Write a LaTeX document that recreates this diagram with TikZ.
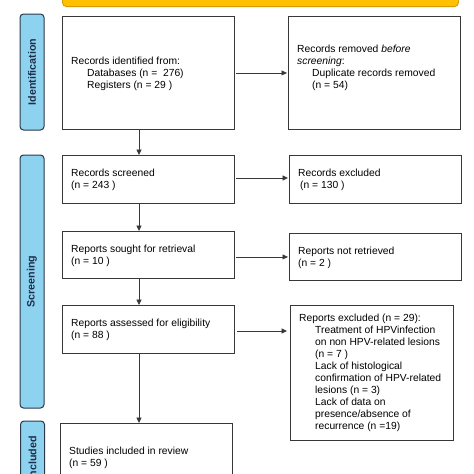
\documentclass[tikz,border=0pt]{standalone}
\usepackage{fontspec}
\setmainfont{Liberation Sans}
\usetikzlibrary{arrows.meta}
\definecolor{bannerfill}{HTML}{FFC000}
\definecolor{bannerline}{HTML}{D49A00}
\definecolor{sidefill}{HTML}{8DD3F0}
\definecolor{sideline}{HTML}{2B3A4A}
\definecolor{boxline}{HTML}{383838}
\definecolor{navy}{HTML}{1F2E4A}
\begin{document}
\begin{tikzpicture}[x=1pt,y=-1pt,
  box/.style={draw=boxline, line width=0.9pt, inner sep=0pt, anchor=north west},
  txt/.style={anchor=base west, inner sep=0pt, align=left, text=black,
    font=\fontsize{10.3}{12}\selectfont},
  side/.style={draw=sideline, fill=sidefill, line width=1pt, rounded corners=3.5pt,
    rotate=90, minimum height=24pt, inner sep=0pt, text=navy,
    font=\fontsize{10.7}{12}\selectfont\bfseries},
  conn/.style={draw=boxline, line width=0.9pt, -{Triangle[length=5.5pt,width=5pt]}}]
\useasboundingbox (0,0) rectangle (474,474);
\clip (0,0) rectangle (474,474);
\fill[white] (0,0) rectangle (474,474);

% banner
\node[draw=bannerline, fill=bannerfill, line width=0.9pt, rounded corners=4pt,
  minimum width=396pt, minimum height=27pt, inner sep=0pt, anchor=south west] (banner) at (62,7) {};

% side labels
\node[side, minimum width=116pt] (lid) at (32,72) {Identification};
\node[side, minimum width=253pt] (lscr) at (32,281.5) {Screening};
\node[side, minimum width=74pt] (linc) at (32.5,458) {Included};

% boxes
\node[box, minimum width=172pt, minimum height=113pt] (b1) at (62,16) {};
\node[box, minimum width=172pt, minimum height=113pt] (b2) at (288,16) {};
\node[box, minimum width=172pt, minimum height=48pt] (b3) at (62,155) {};
\node[box, minimum width=172pt, minimum height=48pt] (b4) at (289,155) {};
\node[box, minimum width=172pt, minimum height=47pt] (b5) at (62,231) {};
\node[box, minimum width=172pt, minimum height=47pt] (b6) at (289,233) {};
\node[box, minimum width=172pt, minimum height=48pt] (b7) at (62,305) {};
\node[box, minimum width=163pt, minimum height=135pt] (b8) at (290,305) {};
\node[box, minimum width=172pt, minimum height=80pt] (b9) at (60,423) {};

% texts (anchored at the baseline of their last line)
\node[txt] (t1a) at (71,64.6) {Records identified from:};
\node[txt] (t1b) at (87,88.6) {Databases (n =\ \ 276)\\ Registers (n = 29 )};
\node[txt] (t2a) at (297,64.6) {Records removed \textit{before}\\ \textit{screening}:};
\node[txt] (t2b) at (312,88.6) {Duplicate records removed\\ (n = 54)};
\node[txt] (t3) at (71,188.6) {Records screened\\ (n = 243 )};
\node[txt] (t4a) at (298,176.6) {Records excluded};
\node[txt] (t4b) at (300,188.6) {(n = 130 )};
\node[txt] (t5) at (71,264.6) {Reports sought for retrieval\\ (n = 10 )};
\node[txt] (t6) at (298,266.6) {Reports not retrieved\\ (n = 2 )};
\node[txt] (t7) at (71,338.6) {Reports assessed for eligibility\\ (n = 88 )};
\node[txt] (t8a) at (299,321.6) {Reports excluded (n = 29):};
\node[txt] (t8b) at (315,429.6) {Treatment of HPVinfection\\
  on non HPV-related lesions\\
  (n = 7 )\\
  Lack of histological\\
  confirmation of HPV-related\\
  lesions (n = 3)\\
  Lack of data on\\
  presence/absence of\\
  recurrence (n =19)};
\node[txt] (t9) at (69,466.6) {Studies included in review\\ (n = 59 )};

% connectors
\coordinate (ax) at (139,0);
\draw[conn, shorten <=1pt, shorten >=1pt] (b1.east) -- (b2.west);
\draw[conn, shorten <=1pt, shorten >=1pt] (b3.east |- 0,178) -- (b4.west |- 0,178);
\draw[conn, shorten <=1pt, shorten >=1pt] (b5.east |- b6.west) -- (b6.west);
\draw[conn, shorten <=2.5pt, shorten >=3pt] (b7.east |- 0,331) -- (b8.west |- 0,331);
\draw[conn] (b1.south -| ax) -- (b3.north -| ax);
\draw[conn] (b3.south -| ax) -- (b5.north -| ax);
\draw[conn] (b5.south -| ax) -- (b7.north -| ax);
\draw[conn] (b7.south -| ax) -- (b9.north -| ax);
\end{tikzpicture}
\end{document}
